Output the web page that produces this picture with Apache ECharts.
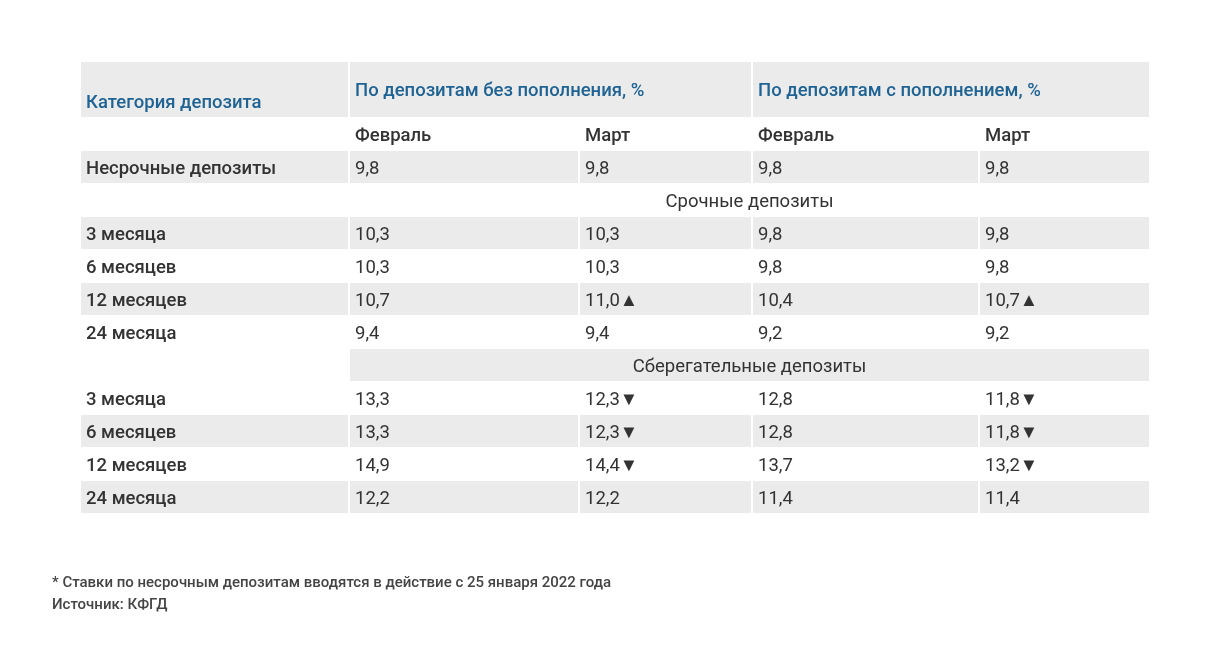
<!DOCTYPE html>
<html><head><meta charset="utf-8">
<script src="https://cdn.jsdelivr.net/npm/echarts@6/dist/echarts.min.js"></script>
<style>html,body{margin:0;padding:0;background:#fff}#c{width:1212px;height:654px}</style>
</head><body><div id="c"></div>
<script>
const headerGroups = ['По депозитам без пополнения, %', 'По депозитам с пополнением, %'];
const monthLabels = ['Февраль', 'Март', 'Февраль', 'Март'];
const firstHeader = 'Категория депозита';
const demandLabel = 'Несрочные депозиты';
const demandValues = ['9,8', '9,8', '9,8', '9,8'];
const termTitle = 'Срочные депозиты';
const savingsTitle = 'Сберегательные депозиты';
const termCategories = ['3 месяца', '6 месяцев', '12 месяцев', '24 месяца'];
const termFebNo = ['10,3', '10,3', '10,7', '9,4'];
const termMarNo = ['10,3', '10,3', '11,0▲', '9,4'];
const termFebWith = ['9,8', '9,8', '10,4', '9,2'];
const termMarWith = ['9,8', '9,8', '10,7▲', '9,2'];
const savCategories = ['3 месяца', '6 месяцев', '12 месяцев', '24 месяца'];
const savFebNo = ['13,3', '13,3', '14,9', '12,2'];
const savMarNo = ['12,3▼', '12,3▼', '14,4▼', '12,2'];
const savFebWith = ['12,8', '12,8', '13,7', '11,4'];
const savMarWith = ['11,8▼', '11,8▼', '13,2▼', '11,4'];
const footnote = '* Ставки по несрочным депозитам вводятся в действие с 25 января 2022 года';
const source = 'Источник: КФГД';

// layout
const colX = [81, 350, 580, 753, 980, 1149];
const GAP = 2;
const GRAY = '#ebebeb', BLUE = '#1f6394', DARK = '#333333';
const cells = [];
function cell(x0, x1, y0, y1, text, fill, color, weight, align) {
  cells.push([x0, y0, x1, y1, text, fill, color, weight, align || 'left']);
}
cell(colX[0], colX[1]-GAP, 62, 117, '', GRAY);
cell(colX[0], colX[1]-GAP, 62, 140, firstHeader, null, BLUE, 500);
cell(colX[1], colX[3]-GAP, 62, 117, headerGroups[0], GRAY, BLUE, 500);
cell(colX[3], colX[5], 62, 117, headerGroups[1], GRAY, BLUE, 500);
monthLabels.forEach((m, i) => cell(colX[i+1], colX[i+2]-GAP, 118, 150, m, null, DARK, 500));
const RH = 33;
function dataRow(y, label, vals, fill) {
  cell(colX[0], colX[1]-GAP, y, y+RH-1, label, fill, DARK, 500);
  vals.forEach((v, i) => cell(colX[i+1], (i === 3 ? colX[5] : colX[i+2]-GAP), y, y+RH-1, v, fill, DARK, 400));
}
let y = 151;
dataRow(y, demandLabel, demandValues, GRAY); y += RH;
cell(colX[1], colX[5], y, y+RH-1, termTitle, null, DARK, 400, 'center'); y += RH;
termCategories.forEach((c, i) => { dataRow(y, c, [termFebNo[i], termMarNo[i], termFebWith[i], termMarWith[i]], i % 2 === 0 ? GRAY : null); y += RH; });
cell(colX[1], colX[5], y, y+RH-1, savingsTitle, GRAY, DARK, 400, 'center'); y += RH;
savCategories.forEach((c, i) => { dataRow(y, c, [savFebNo[i], savMarNo[i], savFebWith[i], savMarWith[i]], i % 2 === 1 ? GRAY : null); y += RH; });

const chart = echarts.init(document.getElementById('c'));
chart.setOption({
  animation: false,
  grid: {left: 0, right: 0, top: 0, bottom: 0},
  xAxis: {type: 'value', min: 0, max: 1212, show: false},
  yAxis: {type: 'value', min: 0, max: 654, inverse: true, show: false},
  series: [{
    type: 'custom',
    data: cells,
    renderItem: function (params, api) {
      const d = cells[params.dataIndex];
      const p0 = api.coord([d[0], d[1]]), p1 = api.coord([d[2], d[3]]);
      const children = [];
      if (d[5]) children.push({type: 'rect', shape: {x: p0[0], y: p0[1], width: p1[0]-p0[0], height: p1[1]-p0[1]}, style: {fill: d[5]}});
      if (d[4]) children.push({type: 'text', style: {
        text: d[4], x: d[8] === 'center' ? (p0[0]+p1[0])/2 : p0[0]+5, y: (p0[1]+p1[1])/2 + 2,
        align: d[8], verticalAlign: 'middle', fill: d[6], fontFamily: 'Roboto', fontSize: 18.5, fontWeight: d[7]
      }});
      return {type: 'group', children: children};
    }
  }],
  graphic: [
    {type: 'text', left: 52, top: 576, style: {text: footnote, fill: '#444', fontFamily: 'Roboto', fontSize: 15, fontWeight: 500}},
    {type: 'text', left: 52, top: 598, style: {text: source, fill: '#444', fontFamily: 'Roboto', fontSize: 15, fontWeight: 500}}
  ]
});
</script></body></html>
